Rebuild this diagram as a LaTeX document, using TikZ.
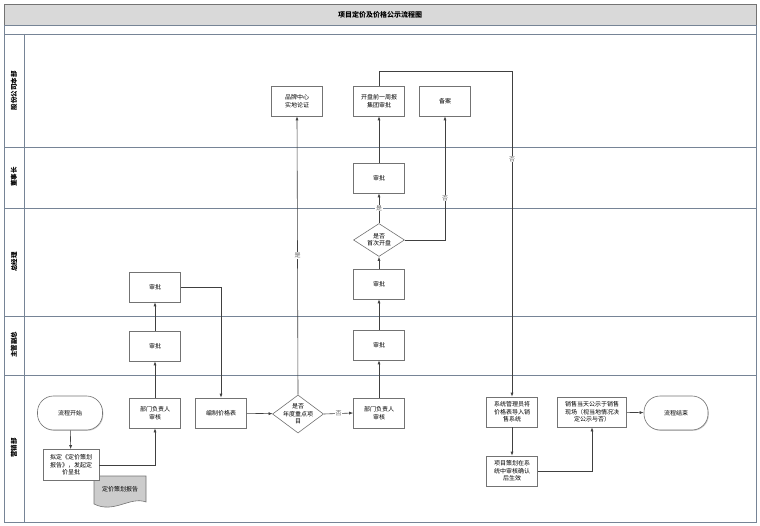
\documentclass[tikz,border=0pt]{standalone}
\usepackage{fontspec}
\setmainfont{Noto Sans CJK SC}
\usetikzlibrary{arrows.meta,shapes.geometric,shadows}
\definecolor{laneblue}{RGB}{118,132,150}
\begin{document}
\begin{tikzpicture}[x=1pt,y=-1pt,
 every node/.style={font=\fontsize{6}{7.6}\selectfont},
 box/.style={draw=black!55, fill=white, line width=0.6pt, minimum width=51pt, minimum height=30pt, inner sep=1pt, align=center, drop shadow={shadow xshift=0.8pt,shadow yshift=-0.8pt,fill=black!20,opacity=1}},
 term/.style={box, rounded corners=16pt, minimum width=65pt, minimum height=34pt},
 dia/.style={diamond, draw=black!55, fill=white, line width=0.6pt, inner sep=0pt},
 conn/.style={draw=black!75, line width=0.6pt, -{Latex[length=4pt,width=3pt]}},
 lbl/.style={fill=white, inner sep=0.6pt, text=black!60},
 lane/.style={draw=laneblue, line width=0.9pt},
 lanetxt/.style={rotate=90, font=\fontsize{6.5}{8}\selectfont\bfseries}
]
\useasboundingbox (0,0) rectangle (760,526);
% frame
\fill[black!15] (4,4) rectangle (756,25);
\draw[draw=black!55, line width=0.9pt] (4,4) rectangle (756,25);
\draw[lane] (4,25) rectangle (756,522);
\draw[lane] (4,34) -- (756,34);
\draw[lane] (24,34) -- (24,522);
\foreach \yy in {147,208,316,375} \draw[lane] (4,\yy) -- (756,\yy);
\node[font=\fontsize{7}{8}\selectfont\bfseries] (title) at (380,15) {项目定价及价格公示流程图};
\node[lanetxt] (l1) at (14,91) {股份公司本部};
\node[lanetxt] (l2) at (14,177) {董事长};
\node[lanetxt] (l3) at (14,262) {总经理};
\node[lanetxt] (l4) at (14,345) {主管副总};
\node[lanetxt] (l5) at (14,448) {营销部};
% document
\draw[draw=black!55, fill=black!20, line width=0.6pt] (94,476) -- (146,476) -- (146,502) .. controls (130,496) and (114,514) .. (94,504) -- cycle;
\node (doc) at (120,489) {定价策划报告};
% nodes
\node[term] (start) at (70,413) {流程开始};
\node[box, minimum width=56pt, minimum height=31pt] (draft) at (71,465) {拟定《定价策划\\报告》，发起定\\价呈批};
\node[box] (dept1) at (155,413) {部门负责人\\审核};
\node[box] (vp1) at (155,346) {审批};
\node[box] (gm1) at (155,287) {审批};
\node[box] (price) at (221,413) {编制价格表};
\node[dia, minimum width=51pt, minimum height=38pt] (d1) at (298,414) {};
\node[align=center] (d1t) at (298,414) {是否\\年度重点项\\目};
\node[box] (dept2) at (379,413) {部门负责人\\审核};
\node[box] (vp2) at (379,345) {审批};
\node[box] (gm2) at (379,284) {审批};
\node[dia, minimum width=51pt, minimum height=33pt] (d2) at (379,240) {};
\node[align=center] (d2t) at (379,240) {是否\\首次开盘};
\node[box] (chair) at (379,178) {审批};
\node[box] (brand) at (297,101) {品牌中心\\实地论证};
\node[box] (report) at (379,101) {开盘前一周报\\集团审批};
\node[box] (filing) at (445,101) {备案};
\node[box] (sys) at (512,412) {系统管理员将\\价格表导入销\\售系统};
\node[box] (proj) at (512,471) {项目策划在系\\统中审核确认\\后生效};
\node[box, minimum width=69pt] (sales) at (592,412) {销售当天公示于销售\\现场（视当地情况决\\定公示与否）};
\node[term, minimum width=64pt] (end) at (676,413) {流程结束};
\coordinate (c1) at (512,71);
% connectors
\draw[conn] (start) -- (draft);
\draw[conn] (draft.east) -| (dept1.south);
\draw[conn] (dept1) -- (vp1);
\draw[conn] (vp1) -- (gm1);
\draw[conn] (gm1.east) -| (price.north);
\draw[conn] (price) -- (d1);
\draw[conn] (d1.north) -- node[lbl] {是} (brand.south);
\draw[conn] (d1.east) -- node[lbl] {否} (dept2.west);
\draw[conn] (dept2) -- (vp2);
\draw[conn] (vp2) -- (gm2);
\draw[conn] (gm2) -- (d2);
\draw[conn] (d2) -- node[lbl] {是} (chair);
\draw[conn] (chair) -- (report);
\draw[conn] (report.north) |- (c1) -- node[lbl, pos=0.27] {否} (sys.north);
\draw[conn] (d2.east) -| node[lbl, pos=0.67] {否} (filing.south);
\draw[conn] (sys) -- (proj);
\draw[conn] (proj.east) -| (sales.south);
\draw[conn] (sales) -- (end);
\end{tikzpicture}
\end{document}
